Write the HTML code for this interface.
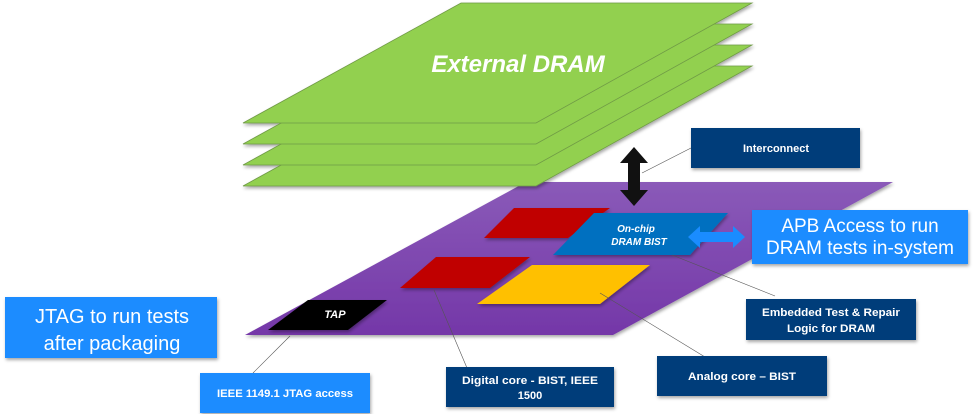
<!DOCTYPE html>
<html><head><meta charset="utf-8"><style>
html,body{margin:0;padding:0;background:#fff;}
svg{display:block}
text{font-family:"Liberation Sans",sans-serif;fill:#fff;}
</style></head><body>
<svg width="974" height="414" viewBox="0 0 974 414" xmlns="http://www.w3.org/2000/svg">
<defs>
<filter id="sh" x="-10%" y="-10%" width="130%" height="140%"><feDropShadow dx="1" dy="2" stdDeviation="1.5" flood-color="#000" flood-opacity="0.35"/></filter>
<linearGradient id="pg" x1="0" y1="0" x2="0" y2="1"><stop offset="0" stop-color="#8a5ab8"/><stop offset="1" stop-color="#7437a8"/></linearGradient>
</defs>
<polygon points="526,182 893,182 613,335 245,335" fill="url(#pg)" filter="url(#sh)"/>
<g fill="#92d050" stroke="#6f9a45" stroke-width="0.8" filter="url(#sh)">
<polygon points="461,66 752,66 536,186 243,186"/>
<polygon points="461,45 752,45 536,165 243,165"/>
<polygon points="461,24 752,24 536,144 243,144"/>
<polygon points="461,3 752,3 536,123 243,123"/>
</g>
<text x="518" y="72" text-anchor="middle" font-size="24" font-weight="bold" font-style="italic">External DRAM</text>
<polygon points="514,208 610,208 568,238 484,238" fill="#c00000" filter="url(#sh)"/>
<polygon points="594,213 728,213 690,255 553,255" fill="#0070c0" filter="url(#sh)"/>
<polygon points="436,257 530,257 490,288 400,288" fill="#c00000" filter="url(#sh)"/>
<polygon points="532,265 650,265 600,304 477,304" fill="#ffc000" filter="url(#sh)"/>
<polygon points="308,300 387,300 348,330 268,330" fill="#000" filter="url(#sh)"/>
<text x="636" y="232" text-anchor="middle" font-size="10" font-weight="bold" font-style="italic">On-chip</text>
<text x="639" y="245" text-anchor="middle" font-size="10" font-weight="bold" font-style="italic">DRAM BIST</text>
<text x="335" y="318" text-anchor="middle" font-size="11" font-weight="bold" font-style="italic">TAP</text>
<polygon points="634,147 648,163 640,163 640,190 648,190 634,206 620,190 628,190 628,163 620,163" fill="#111"/>
<polygon points="688,237 700,226 700,232 733,232 733,226 745,237 733,248 733,242 700,242 700,248" fill="#1a8cff"/>
<g stroke="#555" stroke-width="0.6" fill="none">
<line x1="691" y1="148" x2="642" y2="173"/>
<line x1="672" y1="255" x2="775" y2="296"/>
<line x1="434" y1="290" x2="467" y2="368"/>
<line x1="600" y1="293" x2="705" y2="357"/>
<line x1="290" y1="336" x2="253" y2="373"/>
</g>
<g filter="url(#sh)">
<rect x="691" y="128" width="169" height="40" fill="#003d7a"/>
<rect x="752" y="210" width="216" height="54" fill="#1a8cff"/>
<rect x="5" y="297" width="212" height="61" fill="#1a8cff"/>
<rect x="746" y="299" width="170" height="41" fill="#003d7a"/>
<rect x="200" y="373" width="170" height="40" fill="#1a8cff"/>
<rect x="446" y="367" width="168" height="40" fill="#003d7a"/>
<rect x="657" y="356" width="170" height="40" fill="#003d7a"/>
</g>
<text x="776" y="152" text-anchor="middle" font-size="11" font-weight="bold">Interconnect</text>
<text x="860" y="232" text-anchor="middle" font-size="19">APB Access to run</text>
<text x="860" y="254" text-anchor="middle" font-size="19">DRAM tests in-system</text>
<text x="112" y="323" text-anchor="middle" font-size="20">JTAG to run tests</text>
<text x="112" y="350" text-anchor="middle" font-size="20">after packaging</text>
<text x="831" y="316" text-anchor="middle" font-size="11" font-weight="bold" textLength="138" lengthAdjust="spacingAndGlyphs">Embedded Test &amp; Repair</text>
<text x="831" y="332" text-anchor="middle" font-size="11" font-weight="bold" textLength="88" lengthAdjust="spacingAndGlyphs">Logic for DRAM</text>
<text x="285" y="397" text-anchor="middle" font-size="11" font-weight="bold" textLength="136" lengthAdjust="spacingAndGlyphs">IEEE 1149.1 JTAG access</text>
<text x="530" y="384" text-anchor="middle" font-size="11" font-weight="bold" textLength="136" lengthAdjust="spacingAndGlyphs">Digital core  - BIST, IEEE</text>
<text x="530" y="399" text-anchor="middle" font-size="11" font-weight="bold">1500</text>
<text x="742" y="380" text-anchor="middle" font-size="11" font-weight="bold" textLength="108" lengthAdjust="spacingAndGlyphs">Analog core  –  BIST</text>
</svg>
</body></html>
